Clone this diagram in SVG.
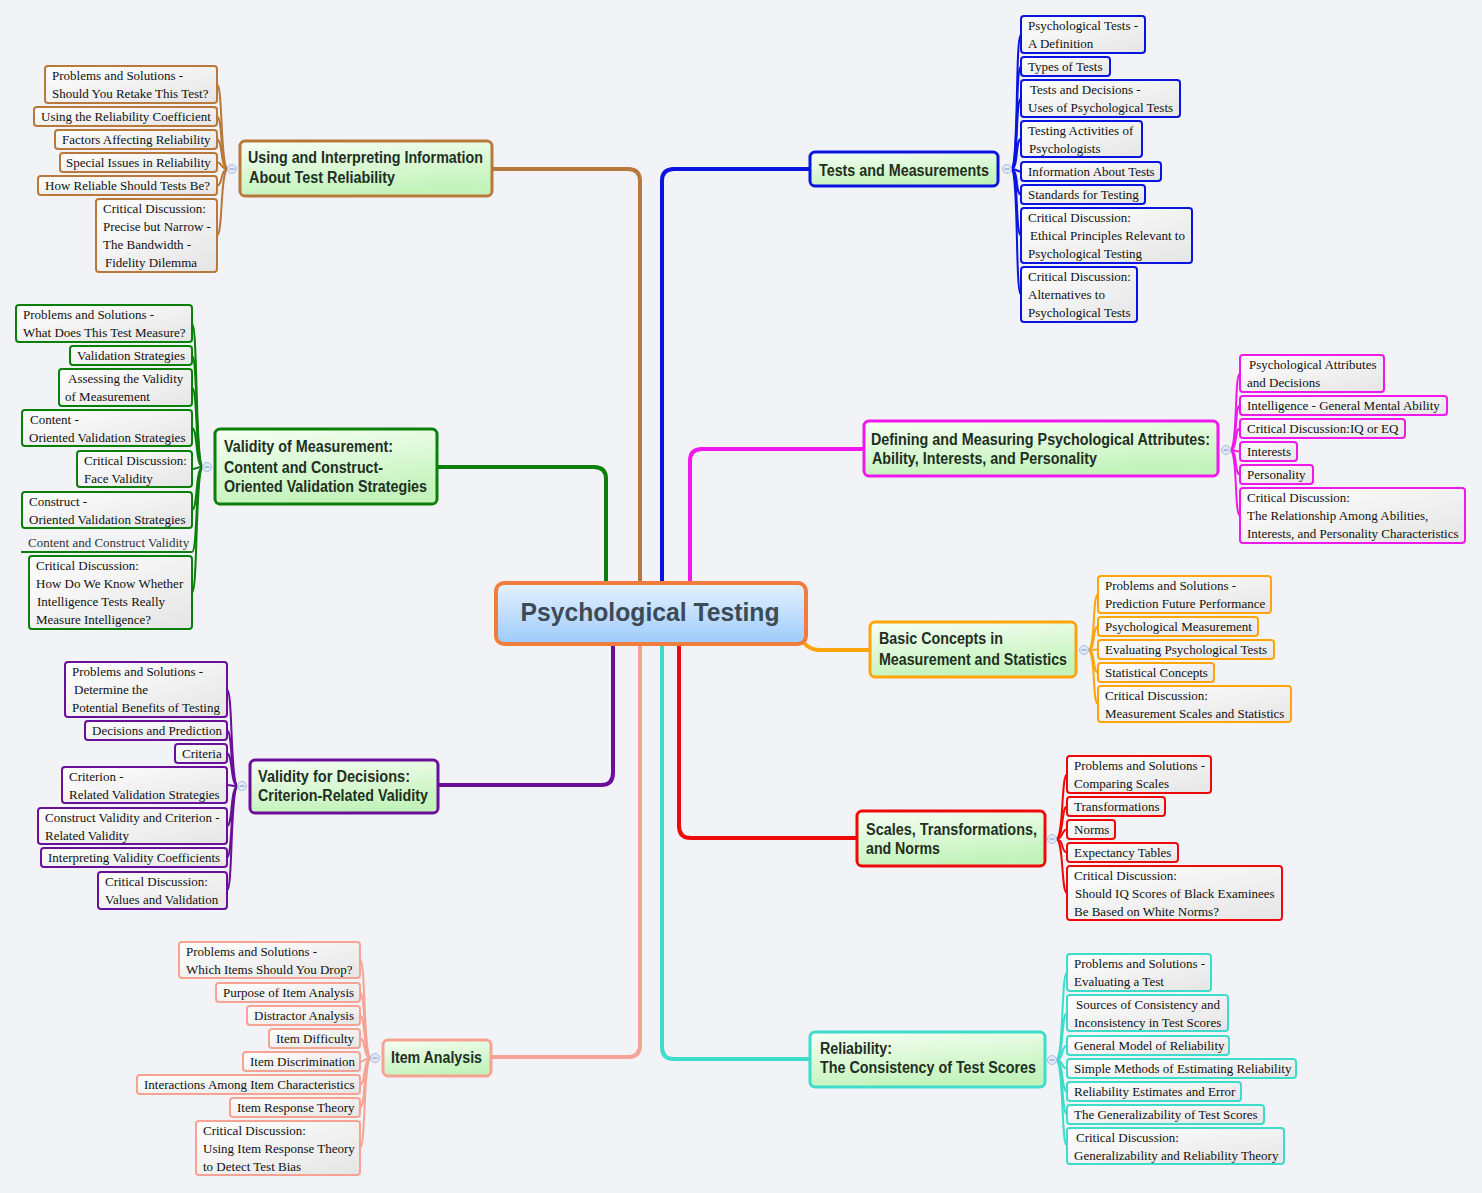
<svg xmlns="http://www.w3.org/2000/svg" width="1482" height="1193" viewBox="0 0 1482 1193">
<defs>
<linearGradient id="gm" x1="0" y1="0" x2="0.3" y2="1"><stop offset="0" stop-color="#f7fff5"/><stop offset="1" stop-color="#c3f3bb"/></linearGradient>
<linearGradient id="gs" x1="0" y1="0" x2="1" y2="1"><stop offset="0" stop-color="#ffffff"/><stop offset="1" stop-color="#e5e5e5"/></linearGradient>
<linearGradient id="gc" x1="0" y1="0" x2="0" y2="1"><stop offset="0" stop-color="#e6f2ff"/><stop offset="1" stop-color="#9ccbfb"/></linearGradient>
<style>
.sub rect{fill:url(#gs);stroke-width:2}
.main rect{fill:url(#gm);stroke-width:3}
.sub text{font-family:"Liberation Serif",serif;font-size:13px;fill:#111}
.main text{font-family:"Liberation Sans",Arial,sans-serif;font-size:16px;font-weight:bold;fill:#1f2f1f}
.br{stroke:#b8793a}.gr{stroke:#0a7f0a}.pu{stroke:#6a0f9a}.sa{stroke:#f6a394}.bl{stroke:#0a14e0}.ma{stroke:#f018ec}.or{stroke:#ffa40a}.re{stroke:#ee0a0a}.tu{stroke:#3ddccb}
#connectors path{fill:none;stroke-linecap:round}
.trunk{stroke-width:4}
.twig{stroke-width:2}
.dot circle{fill:#dfe9f8;stroke:#a9bde2;stroke-width:1}
.dot line{stroke:#7f97c8;stroke-width:1}
</style>
</defs>
<rect x="0" y="0" width="1482" height="1193" fill="#f2f3f7"/>
<g id="connectors">
<path class="trunk br" d="M640 600 L640 181 Q640 169 628 169 L492 169"/>
<path class="trunk gr" d="M606 600 L606 479 Q606 467 594 467 L437 467"/>
<path class="trunk pu" d="M613 630 L613 773 Q613 785 601 785 L438 785"/>
<path class="trunk sa" d="M640 630 L640 1045 Q640 1057 628 1057 L491 1057"/>
<path class="trunk bl" d="M662 600 L662 181 Q662 169 674 169 L810 169"/>
<path class="trunk ma" d="M690 600 L690 461 Q690 449 702 449 L864 449"/>
<path class="trunk or" d="M800 636 Q806 650 820 650 L870 650"/>
<path class="trunk re" d="M679 630 L679 826 Q679 838 691 838 L857 838"/>
<path class="trunk tu" d="M662 630 L662 1047 Q662 1059 674 1059 L810 1059"/>
<g class="twig br">
<path d="M228 169 C220 169 223 84.5 217 84.5"/><path d="M228 169 C220 169 223 116.5 217 116.5"/><path d="M228 169 C220 169 223 139.5 217 139.5"/><path d="M228 169 C220 169 223 162.5 217 162.5"/><path d="M228 169 C220 169 223 185.5 217 185.5"/><path d="M228 169 C220 169 223 235.5 217 235.5"/>
</g>
<g class="twig gr">
<path d="M203 467 C195 467 198 323.5 192 323.5"/><path d="M203 467 C195 467 198 355.5 192 355.5"/><path d="M203 467 C195 467 198 387.5 192 387.5"/><path d="M203 467 C195 467 198 428 192 428"/><path d="M203 467 C195 467 198 469 192 469"/><path d="M203 467 C195 467 198 510 192 510"/><path d="M203 467 C195 467 198 552 192 552"/><path d="M203 467 C195 467 198 592.5 192 592.5"/>
</g>
<g class="twig pu">
<path d="M238 786 C230 786 233 689.5 227 689.5"/><path d="M238 786 C230 786 233 730.5 227 730.5"/><path d="M238 786 C230 786 233 753.5 227 753.5"/><path d="M238 786 C230 786 233 785 227 785"/><path d="M238 786 C230 786 233 826 227 826"/><path d="M238 786 C230 786 233 857.5 227 857.5"/><path d="M238 786 C230 786 233 890.5 227 890.5"/>
</g>
<g class="twig sa">
<path d="M371 1058 C363 1058 366 960 360 960"/><path d="M371 1058 C363 1058 366 992.5 360 992.5"/><path d="M371 1058 C363 1058 366 1015.5 360 1015.5"/><path d="M371 1058 C363 1058 366 1038.5 360 1038.5"/><path d="M371 1058 C363 1058 366 1061.5 360 1061.5"/><path d="M371 1058 C363 1058 366 1084.5 360 1084.5"/><path d="M371 1058 C363 1058 366 1107.5 360 1107.5"/><path d="M371 1058 C363 1058 366 1148 360 1148"/>
</g>
<g class="twig bl">
<path d="M1011 169 C1019 169 1015 34.5 1021 34.5"/><path d="M1011 169 C1019 169 1015 66.5 1021 66.5"/><path d="M1011 169 C1019 169 1015 98.5 1021 98.5"/><path d="M1011 169 C1019 169 1015 139 1021 139"/><path d="M1011 169 C1019 169 1015 171.5 1021 171.5"/><path d="M1011 169 C1019 169 1015 194.5 1021 194.5"/><path d="M1011 169 C1019 169 1015 235.5 1021 235.5"/><path d="M1011 169 C1019 169 1015 294.5 1021 294.5"/>
</g>
<g class="twig ma">
<path d="M1230 450 C1238 450 1234 373.5 1240 373.5"/><path d="M1230 450 C1238 450 1234 405.5 1240 405.5"/><path d="M1230 450 C1238 450 1234 428.5 1240 428.5"/><path d="M1230 450 C1238 450 1234 451.5 1240 451.5"/><path d="M1230 450 C1238 450 1234 474.5 1240 474.5"/><path d="M1230 450 C1238 450 1234 515.5 1240 515.5"/>
</g>
<g class="twig or">
<path d="M1088 650 C1096 650 1092 594.5 1098 594.5"/><path d="M1088 650 C1096 650 1092 626.5 1098 626.5"/><path d="M1088 650 C1096 650 1092 649.5 1098 649.5"/><path d="M1088 650 C1096 650 1092 672.5 1098 672.5"/><path d="M1088 650 C1096 650 1092 704 1098 704"/>
</g>
<g class="twig re">
<path d="M1056 839 C1064 839 1061 774.5 1067 774.5"/><path d="M1056 839 C1064 839 1061 806.5 1067 806.5"/><path d="M1056 839 C1064 839 1061 829.5 1067 829.5"/><path d="M1056 839 C1064 839 1061 852.5 1067 852.5"/><path d="M1056 839 C1064 839 1061 893 1067 893"/>
</g>
<g class="twig tu">
<path d="M1056 1060 C1064 1060 1061 972.5 1067 972.5"/><path d="M1056 1060 C1064 1060 1061 1013 1067 1013"/><path d="M1056 1060 C1064 1060 1061 1045.5 1067 1045.5"/><path d="M1056 1060 C1064 1060 1061 1068.5 1067 1068.5"/><path d="M1056 1060 C1064 1060 1061 1091.5 1067 1091.5"/><path d="M1056 1060 C1064 1060 1061 1114.5 1067 1114.5"/><path d="M1056 1060 C1064 1060 1061 1146 1067 1146"/>
</g>
<line x1="21" y1="552" x2="192" y2="552" class="gr" stroke-width="2"/>
</g>
<g class="dot">
<circle cx="232" cy="169" r="4.5"/><line x1="229.5" y1="169" x2="234.5" y2="169"/>
<circle cx="207" cy="467" r="4.5"/><line x1="204.5" y1="467" x2="209.5" y2="467"/>
<circle cx="242" cy="786" r="4.5"/><line x1="239.5" y1="786" x2="244.5" y2="786"/>
<circle cx="375" cy="1058" r="4.5"/><line x1="372.5" y1="1058" x2="377.5" y2="1058"/>
<circle cx="1007" cy="169" r="4.5"/><line x1="1004.5" y1="169" x2="1009.5" y2="169"/>
<circle cx="1226" cy="450" r="4.5"/><line x1="1223.5" y1="450" x2="1228.5" y2="450"/>
<circle cx="1084" cy="650" r="4.5"/><line x1="1081.5" y1="650" x2="1086.5" y2="650"/>
<circle cx="1052" cy="839" r="4.5"/><line x1="1049.5" y1="839" x2="1054.5" y2="839"/>
<circle cx="1052" cy="1060" r="4.5"/><line x1="1049.5" y1="1060" x2="1054.5" y2="1060"/>
</g>
<g id="center">
<rect x="496" y="583" width="310" height="61" rx="8" fill="url(#gc)" stroke="#f07d3e" stroke-width="4"/>
<text x="650" y="621" text-anchor="middle" textLength="259" lengthAdjust="spacingAndGlyphs" font-family="Liberation Sans, Arial, sans-serif" font-size="25" font-weight="bold" fill="#3c4a58">Psychological Testing</text>
</g>
<g id="main-reliability-info" class="main"><rect class="br" x="240" y="141" width="252" height="55" rx="5"/><text x="248" y="163" textLength="235" lengthAdjust="spacingAndGlyphs">Using and Interpreting Information</text><text x="249" y="183" textLength="146" lengthAdjust="spacingAndGlyphs">About Test Reliability</text></g>
<g id="main-validity-measurement" class="main"><rect class="gr" x="215" y="429" width="222" height="75" rx="5"/><text x="224" y="452" textLength="169" lengthAdjust="spacingAndGlyphs">Validity of Measurement:</text><text x="224" y="473" textLength="159" lengthAdjust="spacingAndGlyphs">Content and Construct-</text><text x="224" y="492" textLength="203" lengthAdjust="spacingAndGlyphs">Oriented Validation Strategies</text></g>
<g id="main-validity-decisions" class="main"><rect class="pu" x="250" y="760" width="188" height="53" rx="5"/><text x="258" y="782" textLength="152" lengthAdjust="spacingAndGlyphs">Validity for Decisions:</text><text x="258" y="801" textLength="170" lengthAdjust="spacingAndGlyphs">Criterion-Related Validity</text></g>
<g id="main-item-analysis" class="main"><rect class="sa" x="383" y="1040" width="108" height="36" rx="5"/><text x="391" y="1063" textLength="91" lengthAdjust="spacingAndGlyphs">Item Analysis</text></g>
<g id="main-tests" class="main"><rect class="bl" x="810" y="152" width="188" height="34" rx="5"/><text x="819" y="176" textLength="170" lengthAdjust="spacingAndGlyphs">Tests and Measurements</text></g>
<g id="main-attributes" class="main"><rect class="ma" x="864" y="421" width="354" height="55" rx="5"/><text x="871" y="445" textLength="339" lengthAdjust="spacingAndGlyphs">Defining and Measuring Psychological Attributes:</text><text x="872" y="464" textLength="225" lengthAdjust="spacingAndGlyphs">Ability, Interests, and Personality</text></g>
<g id="main-basic" class="main"><rect class="or" x="870" y="622" width="206" height="55" rx="5"/><text x="879" y="644" textLength="124" lengthAdjust="spacingAndGlyphs">Basic Concepts in</text><text x="879" y="665" textLength="188" lengthAdjust="spacingAndGlyphs">Measurement and Statistics</text></g>
<g id="main-scales" class="main"><rect class="re" x="857" y="811" width="188" height="55" rx="5"/><text x="866" y="835" textLength="171" lengthAdjust="spacingAndGlyphs">Scales, Transformations,</text><text x="866" y="854" textLength="74" lengthAdjust="spacingAndGlyphs">and Norms</text></g>
<g id="main-reliability" class="main"><rect class="tu" x="810" y="1032" width="235" height="55" rx="5"/><text x="820" y="1054" textLength="72" lengthAdjust="spacingAndGlyphs">Reliability:</text><text x="820" y="1073" textLength="216" lengthAdjust="spacingAndGlyphs">The Consistency of Test Scores</text></g>

<g id="b1" class="sub"><rect class="br" x="45" y="66" width="172" height="37" rx="3"/><text x="52" y="80">Problems and Solutions -</text><text x="52" y="98">Should You Retake This Test?</text></g>
<g id="b2" class="sub"><rect class="br" x="34" y="107" width="183" height="19" rx="3"/><text x="41" y="121">Using the Reliability Coefficient</text></g>
<g id="b3" class="sub"><rect class="br" x="55" y="130" width="162" height="19" rx="3"/><text x="62" y="144">Factors Affecting Reliability</text></g>
<g id="b4" class="sub"><rect class="br" x="60" y="153" width="157" height="19" rx="3"/><text x="66" y="167">Special Issues in Reliability</text></g>
<g id="b5" class="sub"><rect class="br" x="38" y="176" width="179" height="19" rx="3"/><text x="45" y="190">How Reliable Should Tests Be?</text></g>
<g id="b6" class="sub"><rect class="br" x="96" y="199" width="121" height="73" rx="3"/><text x="103" y="213">Critical Discussion:</text><text x="103" y="231">Precise but Narrow -</text><text x="103" y="249">The Bandwidth -</text><text x="105" y="267">Fidelity Dilemma</text></g>

<g id="g1" class="sub"><rect class="gr" x="16" y="305" width="176" height="37" rx="3"/><text x="23" y="319">Problems and Solutions -</text><text x="23" y="337">What Does This Test Measure?</text></g>
<g id="g2" class="sub"><rect class="gr" x="70" y="346" width="122" height="19" rx="3"/><text x="77" y="360">Validation Strategies</text></g>
<g id="g3" class="sub"><rect class="gr" x="59" y="369" width="133" height="37" rx="3"/><text x="68" y="383">Assessing the Validity</text><text x="65" y="401">of Measurement</text></g>
<g id="g4" class="sub"><rect class="gr" x="22" y="410" width="170" height="36" rx="3"/><text x="30" y="424">Content -</text><text x="29" y="442">Oriented Validation Strategies</text></g>
<g id="g5" class="sub"><rect class="gr" x="77" y="451" width="115" height="36" rx="3"/><text x="84" y="465">Critical Discussion:</text><text x="84" y="483">Face Validity</text></g>
<g id="g6" class="sub"><rect class="gr" x="22" y="492" width="170" height="36" rx="3"/><text x="29" y="506">Construct -</text><text x="29" y="524">Oriented Validation Strategies</text></g>
<g id="g7" class="sub"><text x="28" y="547" style="fill:#333">Content and Construct Validity</text></g>
<g id="g8" class="sub"><rect class="gr" x="29" y="556" width="163" height="73" rx="3"/><text x="36" y="570">Critical Discussion:</text><text x="36" y="588">How Do We Know Whether</text><text x="37" y="606">Intelligence Tests Really</text><text x="36" y="624">Measure Intelligence?</text></g>

<g id="p1" class="sub"><rect class="pu" x="65" y="662" width="162" height="55" rx="3"/><text x="72" y="676">Problems and Solutions -</text><text x="74" y="694">Determine the</text><text x="72" y="712">Potential Benefits of Testing</text></g>
<g id="p2" class="sub"><rect class="pu" x="85" y="721" width="142" height="19" rx="3"/><text x="92" y="735">Decisions and Prediction</text></g>
<g id="p3" class="sub"><rect class="pu" x="175" y="744" width="52" height="19" rx="3"/><text x="182" y="758">Criteria</text></g>
<g id="p4" class="sub"><rect class="pu" x="62" y="767" width="165" height="36" rx="3"/><text x="69" y="781">Criterion -</text><text x="69" y="799">Related Validation Strategies</text></g>
<g id="p5" class="sub"><rect class="pu" x="38" y="808" width="189" height="36" rx="3"/><text x="45" y="822">Construct Validity and Criterion -</text><text x="45" y="840">Related Validity</text></g>
<g id="p6" class="sub"><rect class="pu" x="41" y="848" width="186" height="19" rx="3"/><text x="48" y="862">Interpreting Validity Coefficients</text></g>
<g id="p7" class="sub"><rect class="pu" x="98" y="872" width="129" height="37" rx="3"/><text x="105" y="886">Critical Discussion:</text><text x="105" y="904">Values and Validation</text></g>

<g id="s1" class="sub"><rect class="sa" x="179" y="942" width="181" height="36" rx="3"/><text x="186" y="956">Problems and Solutions -</text><text x="186" y="974">Which Items Should You Drop?</text></g>
<g id="s2" class="sub"><rect class="sa" x="216" y="983" width="144" height="19" rx="3"/><text x="223" y="997">Purpose of Item Analysis</text></g>
<g id="s3" class="sub"><rect class="sa" x="247" y="1006" width="113" height="19" rx="3"/><text x="254" y="1020">Distractor Analysis</text></g>
<g id="s4" class="sub"><rect class="sa" x="269" y="1029" width="91" height="19" rx="3"/><text x="276" y="1043">Item Difficulty</text></g>
<g id="s5" class="sub"><rect class="sa" x="243" y="1052" width="117" height="19" rx="3"/><text x="250" y="1066">Item Discrimination</text></g>
<g id="s6" class="sub"><rect class="sa" x="137" y="1075" width="223" height="19" rx="3"/><text x="144" y="1089">Interactions Among Item Characteristics</text></g>
<g id="s7" class="sub"><rect class="sa" x="230" y="1098" width="130" height="19" rx="3"/><text x="237" y="1112">Item Response Theory</text></g>
<g id="s8" class="sub"><rect class="sa" x="196" y="1121" width="164" height="54" rx="3"/><text x="203" y="1135">Critical Discussion:</text><text x="203" y="1153">Using Item Response Theory</text><text x="203" y="1171">to Detect Test Bias</text></g>

<g id="u1" class="sub"><rect class="bl" x="1021" y="16" width="124" height="37" rx="3"/><text x="1028" y="30">Psychological Tests -</text><text x="1028" y="48">A Definition</text></g>
<g id="u2" class="sub"><rect class="bl" x="1021" y="57" width="89" height="19" rx="3"/><text x="1028" y="71">Types of Tests</text></g>
<g id="u3" class="sub"><rect class="bl" x="1021" y="80" width="159" height="37" rx="3"/><text x="1030" y="94">Tests and Decisions -</text><text x="1028" y="112">Uses of Psychological Tests</text></g>
<g id="u4" class="sub"><rect class="bl" x="1021" y="121" width="121" height="36" rx="3"/><text x="1028" y="135">Testing Activities of</text><text x="1029" y="153">Psychologists</text></g>
<g id="u5" class="sub"><rect class="bl" x="1021" y="162" width="140" height="19" rx="3"/><text x="1028" y="176">Information About Tests</text></g>
<g id="u6" class="sub"><rect class="bl" x="1021" y="185" width="124" height="19" rx="3"/><text x="1028" y="199">Standards for Testing</text></g>
<g id="u7" class="sub"><rect class="bl" x="1021" y="208" width="171" height="55" rx="3"/><text x="1028" y="222">Critical Discussion:</text><text x="1030" y="240">Ethical Principles Relevant to</text><text x="1028" y="258">Psychological Testing</text></g>
<g id="u8" class="sub"><rect class="bl" x="1021" y="267" width="116" height="55" rx="3"/><text x="1028" y="281">Critical Discussion:</text><text x="1028" y="299">Alternatives to</text><text x="1028" y="317">Psychological Tests</text></g>

<g id="m1" class="sub"><rect class="ma" x="1240" y="355" width="144" height="37" rx="3"/><text x="1249" y="369">Psychological Attributes</text><text x="1247" y="387">and Decisions</text></g>
<g id="m2" class="sub"><rect class="ma" x="1240" y="396" width="207" height="19" rx="3"/><text x="1247" y="410">Intelligence - General Mental Ability</text></g>
<g id="m3" class="sub"><rect class="ma" x="1240" y="419" width="165" height="19" rx="3"/><text x="1247" y="433">Critical Discussion:IQ or EQ</text></g>
<g id="m4" class="sub"><rect class="ma" x="1240" y="442" width="57" height="19" rx="3"/><text x="1247" y="456">Interests</text></g>
<g id="m5" class="sub"><rect class="ma" x="1240" y="465" width="73" height="19" rx="3"/><text x="1247" y="479">Personality</text></g>
<g id="m6" class="sub"><rect class="ma" x="1240" y="488" width="225" height="55" rx="3"/><text x="1247" y="502">Critical Discussion:</text><text x="1247" y="520">The Relationship Among Abilities,</text><text x="1247" y="538">Interests, and Personality Characteristics</text></g>

<g id="o1" class="sub"><rect class="or" x="1098" y="576" width="173" height="37" rx="3"/><text x="1105" y="590">Problems and Solutions -</text><text x="1105" y="608">Prediction Future Performance</text></g>
<g id="o2" class="sub"><rect class="or" x="1098" y="617" width="160" height="19" rx="3"/><text x="1105" y="631">Psychological Measurement</text></g>
<g id="o3" class="sub"><rect class="or" x="1098" y="640" width="176" height="19" rx="3"/><text x="1105" y="654">Evaluating Psychological Tests</text></g>
<g id="o4" class="sub"><rect class="or" x="1098" y="663" width="116" height="19" rx="3"/><text x="1105" y="677">Statistical Concepts</text></g>
<g id="o5" class="sub"><rect class="or" x="1098" y="686" width="193" height="36" rx="3"/><text x="1105" y="700">Critical Discussion:</text><text x="1105" y="718">Measurement Scales and Statistics</text></g>

<g id="r1" class="sub"><rect class="re" x="1067" y="756" width="144" height="37" rx="3"/><text x="1074" y="770">Problems and Solutions -</text><text x="1074" y="788">Comparing Scales</text></g>
<g id="r2" class="sub"><rect class="re" x="1067" y="797" width="98" height="19" rx="3"/><text x="1074" y="811">Transformations</text></g>
<g id="r3" class="sub"><rect class="re" x="1067" y="820" width="48" height="19" rx="3"/><text x="1074" y="834">Norms</text></g>
<g id="r4" class="sub"><rect class="re" x="1067" y="843" width="111" height="19" rx="3"/><text x="1074" y="857">Expectancy Tables</text></g>
<g id="r5" class="sub"><rect class="re" x="1067" y="866" width="215" height="54" rx="3"/><text x="1074" y="880">Critical Discussion:</text><text x="1075" y="898">Should IQ Scores of Black Examinees</text><text x="1074" y="916">Be Based on White Norms?</text></g>

<g id="t1" class="sub"><rect class="tu" x="1067" y="954" width="144" height="37" rx="3"/><text x="1074" y="968">Problems and Solutions -</text><text x="1074" y="986">Evaluating a Test</text></g>
<g id="t2" class="sub"><rect class="tu" x="1067" y="995" width="161" height="36" rx="3"/><text x="1076" y="1009">Sources of Consistency and</text><text x="1074" y="1027">Inconsistency in Test Scores</text></g>
<g id="t3" class="sub"><rect class="tu" x="1067" y="1036" width="162" height="19" rx="3"/><text x="1074" y="1050">General Model of Reliability</text></g>
<g id="t4" class="sub"><rect class="tu" x="1067" y="1059" width="229" height="19" rx="3"/><text x="1074" y="1073">Simple Methods of Estimating Reliability</text></g>
<g id="t5" class="sub"><rect class="tu" x="1067" y="1082" width="174" height="19" rx="3"/><text x="1074" y="1096">Reliability Estimates and Error</text></g>
<g id="t6" class="sub"><rect class="tu" x="1067" y="1105" width="197" height="19" rx="3"/><text x="1074" y="1119">The Generalizability of Test Scores</text></g>
<g id="t7" class="sub"><rect class="tu" x="1067" y="1128" width="217" height="36" rx="3"/><text x="1076" y="1142">Critical Discussion:</text><text x="1074" y="1160">Generalizability and Reliability Theory</text></g>
</svg>
